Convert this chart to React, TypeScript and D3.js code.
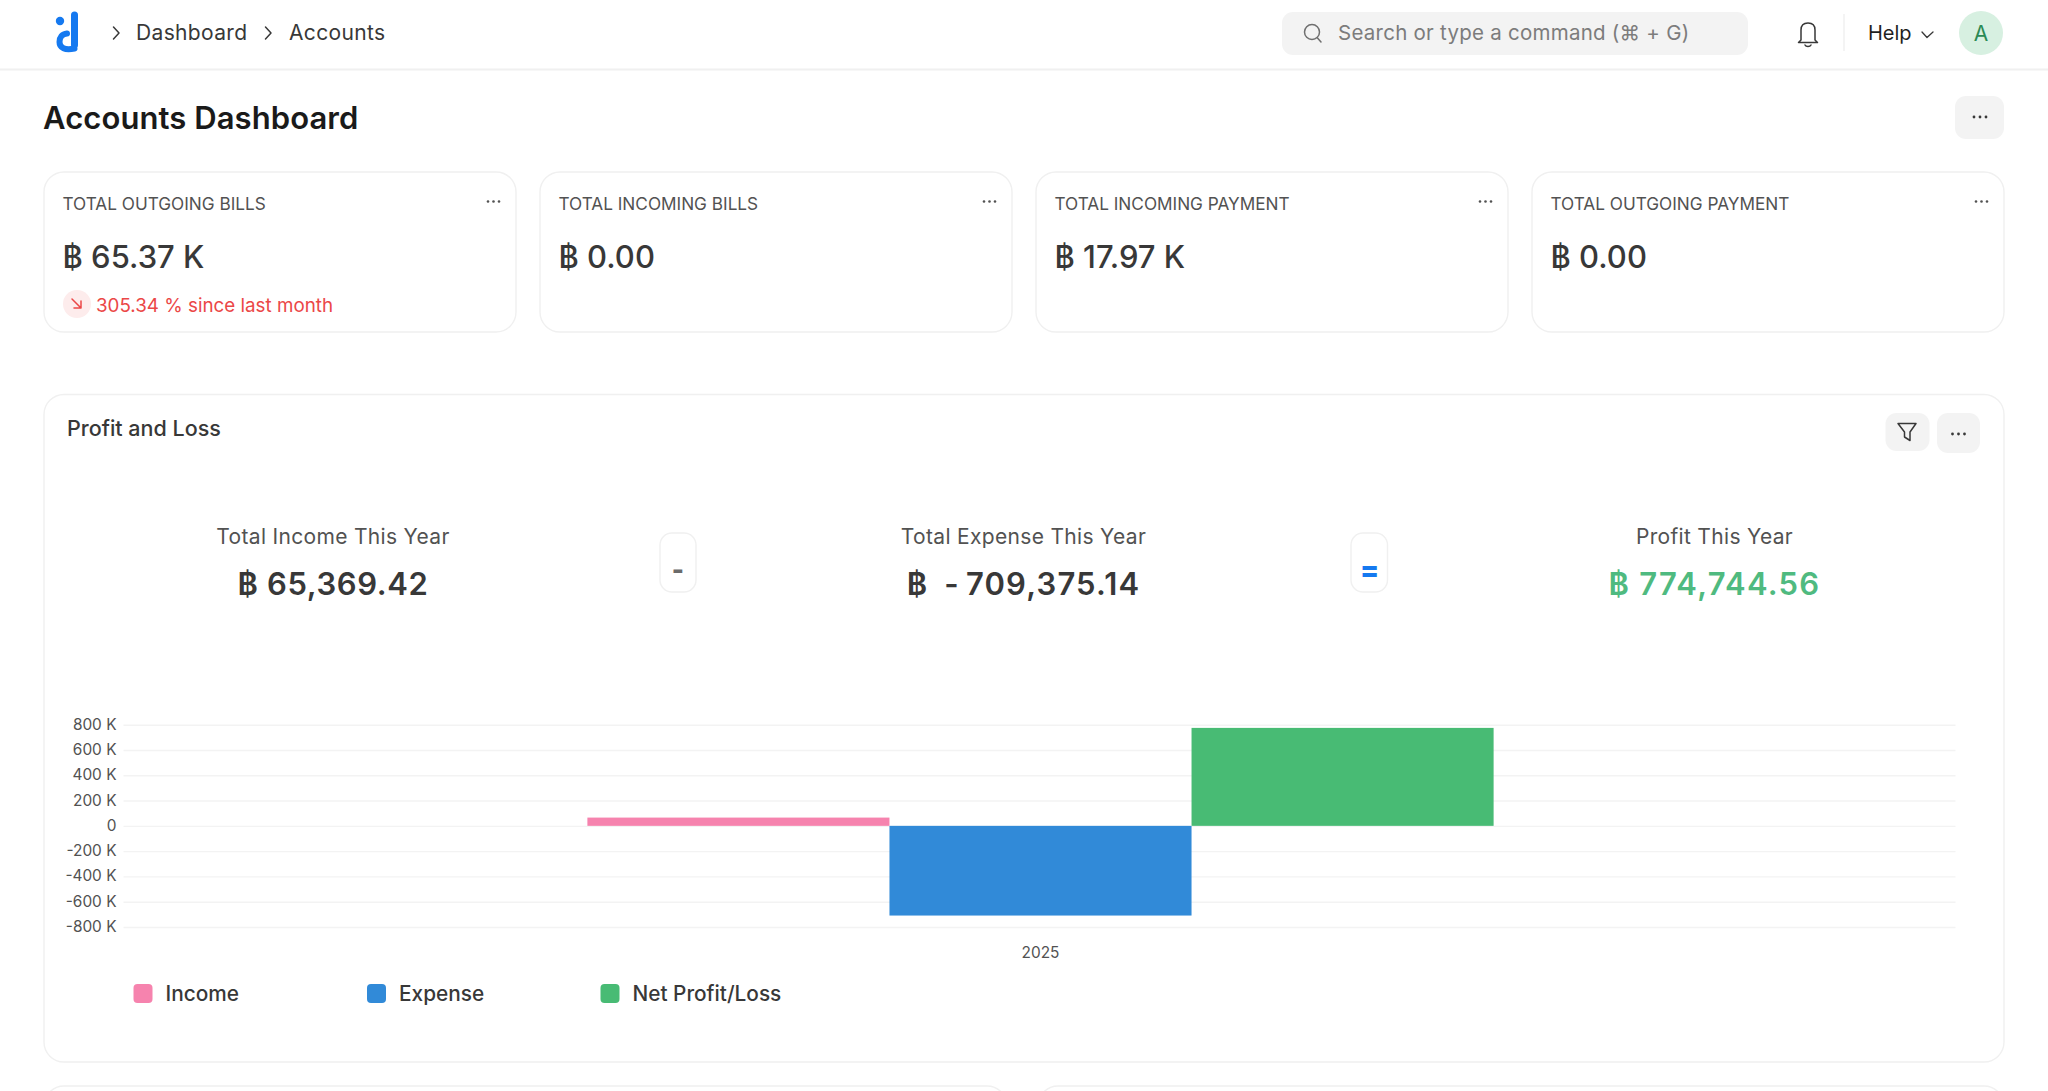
import React, { useEffect, useRef } from 'react';
import * as d3 from 'd3';

const breadcrumbs = ['Dashboard', 'Accounts'];
const kpiTitles = ['TOTAL OUTGOING BILLS', 'TOTAL INCOMING BILLS', 'TOTAL INCOMING PAYMENT', 'TOTAL OUTGOING PAYMENT'];
const kpiValues = ['฿ 65.37 K', '฿ 0.00', '฿ 17.97 K', '฿ 0.00'];
const summaryLabels = ['Total Income This Year', 'Total Expense This Year', 'Profit This Year'];
const summaryValues = ['฿ 65,369.42', '฿ -709,375.14', '฿ 774,744.56'];
const categories = ['2025'];
const seriesNames = ['Income', 'Expense', 'Net Profit/Loss'];
const seriesValues = [65369.42, -709375.14, 774744.56];
const seriesColors = ['#f683ae', '#318ad8', '#48bb74'];
const yTicks = [800000, 600000, 400000, 200000, 0, -200000, -400000, -600000, -800000];

const FONT = 'Inter, sans-serif';
const INK = '#383838';
const MUTED = '#525252';
const LINE = '#f0f0f0';
const BTN = '#f3f3f3';

export default function App() {
  const svgRef = useRef<SVGSVGElement>(null);

  useEffect(() => {
    if (!svgRef.current) return;
    const svg = d3.select(svgRef.current);
    svg.selectAll('*').remove();
    svg.attr('font-family', FONT);

    const label = (x: number, y: number, t: string, size: number, fill: string, weight = 400, anchor = 'start', spacing = 0) =>
      svg.append('text')
        .attr('x', x).attr('y', y)
        .attr('dy', '0.36em')
        .attr('font-size', size)
        .attr('font-weight', weight)
        .attr('fill', fill)
        .attr('text-anchor', anchor)
        .attr('letter-spacing', spacing)
        .text(t);

    const box = (x: number, y: number, w: number, h: number, r: number, fill: string, stroke = 'none') =>
      svg.append('rect')
        .attr('x', x).attr('y', y).attr('width', w).attr('height', h)
        .attr('rx', r).attr('fill', fill).attr('stroke', stroke).attr('stroke-width', 1.4);

    const icon = (d: string, stroke: string, width = 1.6) =>
      svg.append('path').attr('d', d).attr('fill', 'none').attr('stroke', stroke)
        .attr('stroke-width', width).attr('stroke-linecap', 'round').attr('stroke-linejoin', 'round');

    const dots = (cx: number, cy: number, fill = INK, gap = 6, r = 1.4) => {
      [-gap, 0, gap].forEach(o => svg.append('circle').attr('cx', cx + o).attr('cy', cy).attr('r', r).attr('fill', fill));
    };

    // Header
    svg.append('line').attr('x1', 0).attr('x2', 2048).attr('y1', 69.5).attr('y2', 69.5).attr('stroke', LINE).attr('stroke-width', 1.8);
    icon('M74.5 15V45', '#1579f0', 7);
    icon('M67 33.5C62 34 59.5 37.5 59.5 42C59.5 48 65 50.5 74.5 48.5', '#1579f0', 6);
    svg.append('circle').attr('cx', 60).attr('cy', 21).attr('r', 4.2).attr('fill', '#1579f0');

    breadcrumbs.forEach((b, i) => {
      const cx = [116, 268][i];
      icon(`M${cx - 2.5} 27L${cx + 3} 33L${cx - 2.5} 39`, INK, 1.5);
      label([136, 289][i], 32.5, b, 21, INK, 400, 'start', 0.35);
    });

    box(1282, 12, 466, 43, 11, BTN);
    svg.append('circle').attr('cx', 1312).attr('cy', 32).attr('r', 7.5).attr('fill', 'none').attr('stroke', '#6f6f6f').attr('stroke-width', 1.5);
    icon('M1317.5 38L1321 42', '#6f6f6f', 1.5);
    label(1338, 33, 'Search or type a command (⌘ + G)', 20.5, '#7c7c7c', 400, 'start', 0.25);

    icon('M1801 40V30C1801 25 1804 23 1808 23C1812 23 1815 25 1815 30V40L1817.5 42.5H1798.5Z', INK, 1.5);
    icon('M1805 45C1806 47 1810 47 1811 45', INK, 1.5);
    svg.append('line').attr('x1', 1844).attr('x2', 1844).attr('y1', 14).attr('y2', 51).attr('stroke', LINE).attr('stroke-width', 1.5);
    label(1868, 32.5, 'Help', 20, '#1f1f1f', 400);
    icon('M1922 32L1927 37.5L1933 32', INK, 1.3);
    svg.append('circle').attr('cx', 1981).attr('cy', 33).attr('r', 22).attr('fill', '#d7f0e1');
    label(1981, 33, 'A', 21, '#2b8a55', 400, 'middle');

    // Page title
    label(43, 117.5, 'Accounts Dashboard', 31, '#1a1a1a', 600, 'start', 0.08);
    box(1955, 96, 49, 43, 11, BTN);
    dots(1980, 117);

    // KPI cards
    const kpiX = d3.scaleBand<number>().domain(d3.range(kpiTitles.length)).range([44, 2004]).paddingInner(24 / 496);
    kpiTitles.forEach((t, i) => {
      const x = kpiX(i) as number;
      box(x, 172, kpiX.bandwidth(), 160, 20, '#fff', LINE);
      label(x + 18.5, 203.5, t, 17.2, MUTED, 400);
      dots(x + 449.5, 201.5, MUTED, 5.5, 1.3);
      label(x + 18.5, 256.5, kpiValues[i], 31, INK, 500);
    });
    svg.append('circle').attr('cx', 77).attr('cy', 304).attr('r', 14).attr('fill', '#fdecec');
    icon('M72 299L81 308M81 301V308H74', '#eb4747', 1.5);
    label(96, 305, '305.34 % since last month', 18.8, '#eb4747', 400);

    // Profit and Loss card
    box(44, 394.5, 1960, 667.5, 20, '#fff', LINE);
    label(67, 428, 'Profit and Loss', 21.5, INK, 500);
    box(1885.5, 413, 44, 38, 11, BTN);
    icon('M1898 423.5H1916L1910 432V440.5L1904.5 437V432Z', INK, 1.5);
    box(1937, 413, 43, 40, 11, BTN);
    dots(1958.5, 434);

    // Summary
    const summaryX = [333, 1023.5, 1714.5];
    const summarySpacing = [0.6, 1.15, 1.25];
    summaryLabels.forEach((t, i) => {
      label(summaryX[i], 536, t, 21, MUTED, 400, 'middle', 0.32);
      const value = label(summaryX[i], 584, '', 31, i === 2 ? '#4fba80' : INK, 600, 'middle', summarySpacing[i]);
      // the minus sits apart from the currency sign and the digits in the original
      summaryValues[i].split(/(?=-)|(?<=-)/).forEach((part, k) => {
        value.append('tspan').attr('dx', k === 0 ? 0 : 7).text(part);
      });
    });
    box(660, 533, 36, 59, 12, '#fff', LINE);
    label(678, 570, '-', 26, '#6b6b6b', 800, 'middle');
    box(1351, 533, 36.5, 59, 12, '#fff', LINE);
    label(1369.5, 570, '=', 28, '#1579f0', 800, 'middle');

    // Chart
    const y = d3.scaleLinear().domain([-800000, 800000]).range([927, 724.7]);
    const x0 = d3.scaleBand<string>().domain(categories).range([124.5, 1956.5]).paddingInner(0).paddingOuter(0.5108);
    const x1 = d3.scaleBand<string>().domain(seriesNames).range([0, x0.bandwidth()]);

    const fmt = (v: number) => (v === 0 ? '0' : `${v / 1000} K`);
    const yAxis = svg.append('g')
      .attr('transform', 'translate(123.5,0)')
      .call(d3.axisLeft(y).tickValues(yTicks).tickFormat(d => fmt(+d)).tickSize(-(1955.5 - 123.5)).tickPadding(7));
    yAxis.select('.domain').remove();
    yAxis.selectAll('.tick line').attr('stroke', '#f3f3f3').attr('stroke-width', 1.4);
    yAxis.selectAll('.tick text').attr('font-size', 15.4).attr('font-family', FONT).attr('fill', MUTED).attr('y', -0.5);

    categories.forEach(c => {
      const g = svg.append('g').attr('transform', `translate(${x0(c)},0)`);
      g.selectAll('rect')
        .data(seriesValues)
        .enter()
        .append('rect')
        .attr('x', (_, i) => x1(seriesNames[i]) as number)
        .attr('width', x1.bandwidth())
        .attr('y', d => y(Math.max(d, 0)))
        .attr('height', d => Math.abs(y(d) - y(0)))
        .attr('fill', (_, i) => seriesColors[i]);
      label((x0(c) as number) + x0.bandwidth() / 2, 952.5, c, 15.4, MUTED, 400, 'middle');
    });

    // Legend
    seriesNames.forEach((n, i) => {
      const lx = 133.5 + i * 233.5;
      box(lx, 984, 19, 19, 4, seriesColors[i]);
      label(lx + 32, 994, n, 20.8, INK, 500);
    });

    // Next row of cards, cut off by the window
    box(44, 1086, 963, 60, 20, '#fff', LINE);
    box(1038, 1086, 966, 60, 20, '#fff', LINE);
  }, []);

  return (
    <svg
      ref={svgRef}
      width={2048}
      height={1091}
      viewBox="0 0 2048 1091"
      style={{ position: 'absolute', left: 0, top: 0, background: '#fff' }}
    />
  );
}
